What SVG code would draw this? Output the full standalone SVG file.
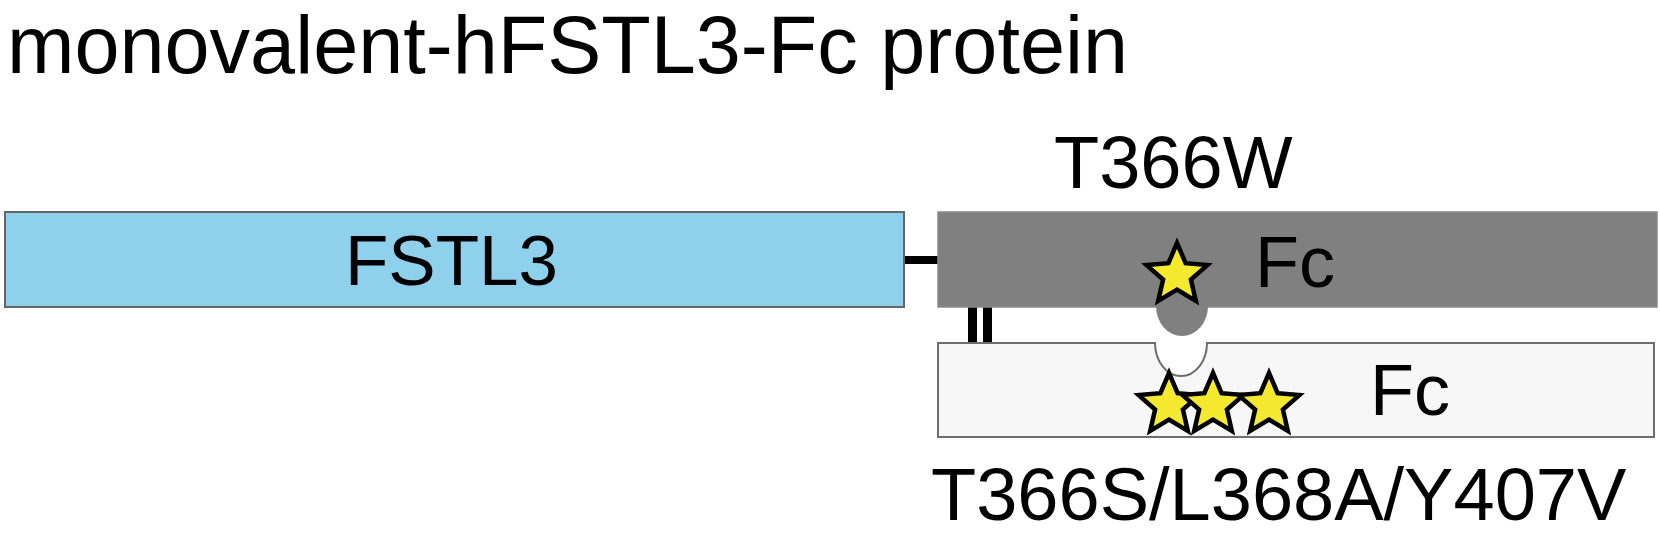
<svg xmlns="http://www.w3.org/2000/svg" width="1660" height="540" viewBox="0 0 1660 540">
<style>
text{font-family:"Liberation Sans",Arial,sans-serif;fill:#000}
.star{fill:#f4e92e;stroke:#000;stroke-width:4.5;stroke-linejoin:miter}
</style>
<defs>
<path id="star" d="M0,-32 L8.6,-11.8 L30.43,-9.89 L13.9,4.5 L18.81,25.89 L0,14.6 L-18.81,25.89 L-13.9,4.5 L-30.43,-9.89 L-8.6,-11.8 Z"/>
</defs>
<rect width="1660" height="540" fill="#fff"/>
<text id="title" x="7" y="73" font-size="81">monovalent-hFSTL3-Fc protein</text>
<g id="connectors">
<rect x="903" y="256" width="36" height="8" fill="#000"/>
<rect x="968" y="306" width="9" height="38" fill="#000"/>
<rect x="983" y="306" width="9" height="38" fill="#000"/>
</g>
<g id="fstl3">
<rect x="5" y="212" width="899" height="95" fill="#8fd0ec" stroke="#666" stroke-width="2"/>
<text x="345" y="285" font-size="71">FSTL3</text>
</g>
<g id="fc-upper">
<rect x="938" y="212" width="719" height="95" fill="#808080" stroke="#8a8a8a" stroke-width="1.5"/>
<path d="M1156,306 A26,30 0 0 0 1208,306 Z" fill="#808080"/>
<use href="#star" class="star" x="1177" y="275"/>
<text x="1255" y="287" font-size="72">Fc</text>
</g>
<g id="fc-lower">
<path d="M938,343 H1155 A26,33 0 0 0 1207,343 H1654 V437 H938 Z" fill="#f7f7f7" stroke="#6e6e6e" stroke-width="2"/>
<use href="#star" class="star" x="1169" y="405"/>
<use href="#star" class="star" x="1213" y="405"/>
<use href="#star" class="star" x="1269" y="405"/>
<text x="1370" y="415" font-size="72">Fc</text>
</g>
<text id="label-t366w" x="1054" y="188" font-size="74">T366W</text>
<text id="label-lower" x="931" y="520" font-size="74">T366S/L368A/Y407V</text>
</svg>
